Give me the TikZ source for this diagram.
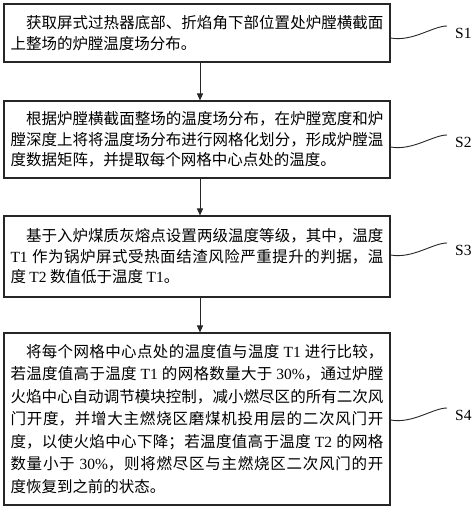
\documentclass[tikz,border=0pt]{standalone}
\usepackage{fontspec}
\setmainfont{Noto Sans CJK SC}
\newfontfamily\lat{Liberation Serif}
\usetikzlibrary{arrows.meta,calc}
\XeTeXlinebreaklocale "zh"
\XeTeXlinebreakskip=0pt plus 1pt
\begin{document}
\begin{tikzpicture}[x=1pt,y=-1pt,
  box/.style={draw=black!85, line width=1.1pt, minimum width=386pt, text width=373pt,
    align=justify, inner sep=0pt, font=\fontsize{15.5}{20.5}\selectfont},
  lab/.style={font=\lat\fontsize{15.5}{18}\selectfont, inner sep=0pt, anchor=west},
  wave/.style={draw=black!85, line width=0.9pt},
  arr/.style={draw=black!85, line width=1pt, -{Triangle[length=7pt,width=6pt]}}]
\useasboundingbox (0,0) rectangle (474,509);

\node[box, minimum height=58pt] (b1) at (197,33) {\noindent\hspace*{1em}获取屏式过热器底部、折焰角下部位置处炉膛横截面\linebreak 上整场的炉膛温度场分布。};

\node[box, minimum height=77pt] (b2) at (197,139.5) {\noindent\hspace*{1em}根据炉膛横截面整场的温度场分布，在炉膛宽度和炉\linebreak 膛深度上将将温度场分布进行网格化划分，形成炉膛温\linebreak 度数据矩阵，并提取每个网格中心点处的温度。};

\node[box, minimum height=81pt] (b3) at (197,256.5) {\noindent\hspace*{1em}基于入炉煤质灰熔点设置两级温度等级，其中，温度\linebreak {\lat T1} 作为锅炉屏式受热面结渣风险严重提升的判据，温\linebreak 度 {\lat T2} 数值低于温度 {\lat T1}。};

\node[box, minimum height=172pt, font=\fontsize{15.5}{22.5}\selectfont] (b4) at (197,419) {\noindent\hspace*{1em}将每个网格中心点处的温度值与温度 {\lat T1} 进行比较，\linebreak 若温度值高于温度 {\lat T1} 的网格数量大于 {\lat 30\%}，通过炉膛\linebreak 火焰中心自动调节模块控制，减小燃尽区的所有二次风\linebreak 门开度，并增大主燃烧区磨煤机投用层的二次风门开\linebreak 度，以使火焰中心下降；若温度值高于温度 {\lat T2} 的网格\linebreak 数量小于 {\lat 30\%}，则将燃尽区与主燃烧区二次风门的开\linebreak 度恢复到之前的状态。};

\node[lab] (s1) at (455,33) {S1};
\node[lab] (s2) at (455,142) {S2};
\node[lab] (s3) at (455,250) {S3};
\node[lab] (s4) at (455,415) {S4};

\foreach \b/\s in {b1/s1,b2/s2,b3/s3,b4/s4}{
  \draw[wave] ($(\b.east |- \s.west)+(0,5)$) .. controls +(22,4) and +(-14,0) .. ($(\s.west)+(-8,-7)$);
}

\draw[arr] ($(b1.south)+(3,0)$) -- ($(b2.north)+(3,0)$);
\draw[arr] ($(b2.south)+(3,0)$) -- ($(b3.north)+(3,0)$);
\draw[arr] ($(b3.south)+(3,0)$) -- ($(b4.north)+(3,0)$);
\end{tikzpicture}
\end{document}
